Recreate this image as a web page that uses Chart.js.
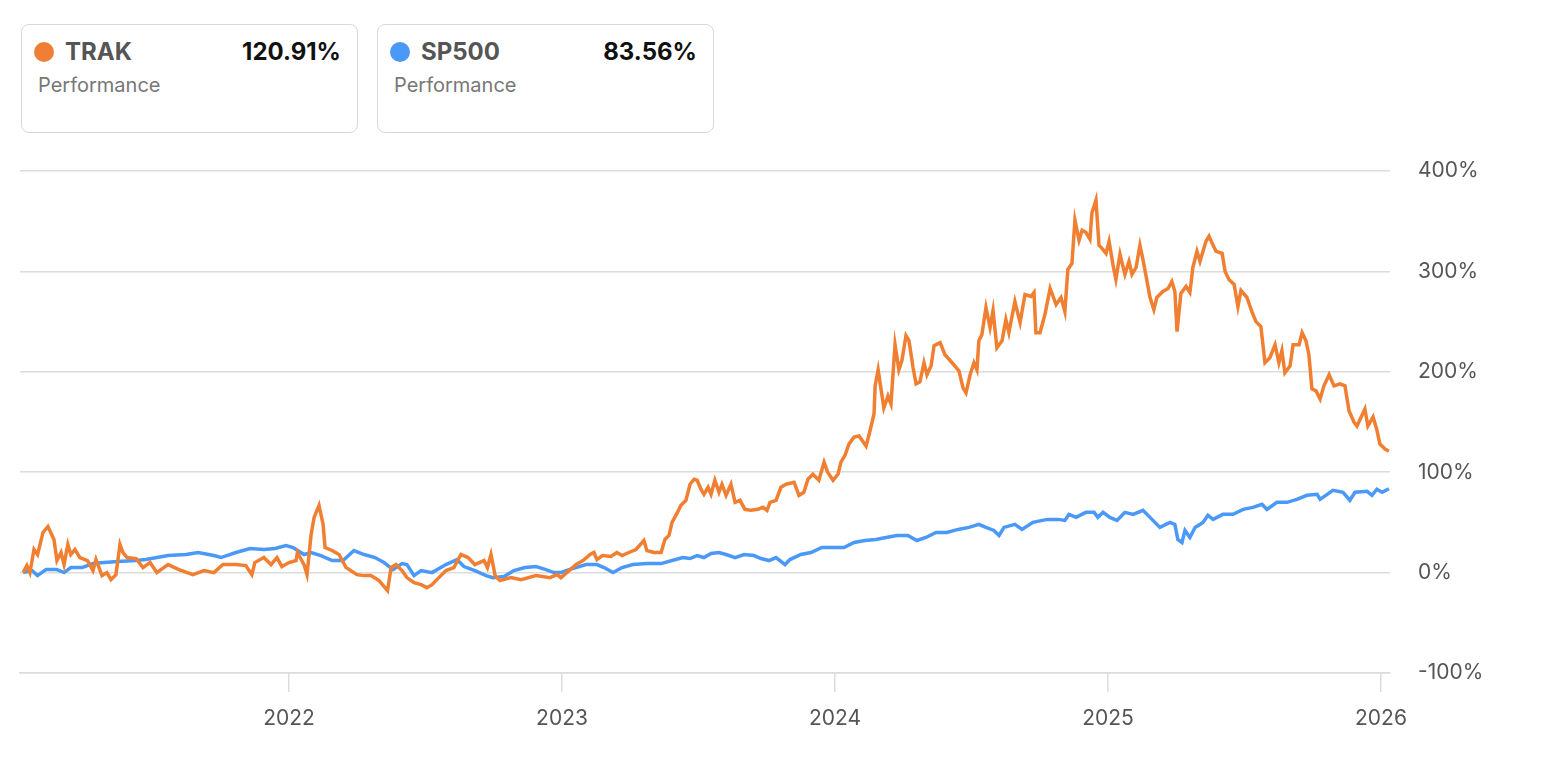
<!DOCTYPE html>
<html>
<head>
<meta charset="utf-8">
<script src="https://cdn.jsdelivr.net/npm/chart.js@4.4.1/dist/chart.umd.min.js"></script>
<style>
    html, body { margin: 0; padding: 0; background: #fff; }
    body { width: 1562px; height: 768px; position: relative; overflow: hidden; font-family: Inter, "Liberation Sans", sans-serif; }
    .card {
        position: absolute; top: 24px; height: 107px; width: 335px;
        border: 1.5px solid #d8d8d8; border-radius: 8px; box-sizing: content-box;
    }
    .card .dot { position: absolute; left: 12px; top: 17px; width: 20px; height: 20px; border-radius: 50%; }
    .card .name { position: absolute; left: 43px; top: 12px; font-size: 24px; font-weight: 700; color: #555; }
    .card .value { position: absolute; right: 16px; top: 12px; font-size: 24px; font-weight: 700; color: #111; }
    .card .label { position: absolute; left: 16px; top: 48px; font-size: 20px; color: #777; }
    #chartBox { position: absolute; left: 0; top: 150px; width: 1562px; height: 618px; }
</style>
</head>
<body>
<div class="card" style="left:21px">
    <div class="dot" style="background:#F07F35"></div>
    <div class="name">TRAK</div>
    <div class="value">120.91%</div>
    <div class="label">Performance</div>
</div>
<div class="card" style="left:377px">
    <div class="dot" style="background:#4A98F7"></div>
    <div class="name">SP500</div>
    <div class="value">83.56%</div>
    <div class="label">Performance</div>
</div>
<div id="chartBox"><canvas id="perfChart"></canvas></div>

<script>
// dates as decimal years, values as % performance since start
const trakDates = [
    2021.026, 2021.040, 2021.051, 2021.066, 2021.079, 2021.099, 2021.117, 2021.139, 2021.150, 2021.165,
    2021.176, 2021.190, 2021.201, 2021.216, 2021.234, 2021.262, 2021.282, 2021.293, 2021.315, 2021.333,
    2021.348, 2021.366, 2021.381, 2021.392, 2021.407, 2021.440, 2021.465, 2021.491, 2021.516, 2021.557,
    2021.597, 2021.648, 2021.689, 2021.725, 2021.758, 2021.806, 2021.842, 2021.864, 2021.875, 2021.908,
    2021.934, 2021.956, 2021.974, 2022.000, 2022.026, 2022.031, 2022.055, 2022.066, 2022.081, 2022.092,
    2022.110, 2022.125, 2022.132, 2022.158, 2022.183, 2022.209, 2022.249, 2022.275, 2022.300, 2022.330,
    2022.361, 2022.374, 2022.392, 2022.414, 2022.432, 2022.458, 2022.484, 2022.505, 2022.524, 2022.549,
    2022.575, 2022.604, 2022.630, 2022.656, 2022.681, 2022.714, 2022.727, 2022.740, 2022.755, 2022.773,
    2022.813, 2022.850, 2022.905, 2022.956, 2022.982, 2022.996, 2023.026, 2023.051, 2023.077, 2023.103,
    2023.117, 2023.128, 2023.148, 2023.179, 2023.201, 2023.220, 2023.245, 2023.271, 2023.300, 2023.311,
    2023.337, 2023.363, 2023.377, 2023.392, 2023.403, 2023.423, 2023.436, 2023.454, 2023.469, 2023.484,
    2023.495, 2023.509, 2023.520, 2023.535, 2023.546, 2023.560, 2023.575, 2023.586, 2023.601, 2023.619,
    2023.634, 2023.652, 2023.670, 2023.692, 2023.718, 2023.736, 2023.751, 2023.762, 2023.784, 2023.802,
    2023.821, 2023.850, 2023.868, 2023.886, 2023.901, 2023.919, 2023.941, 2023.960, 2023.973, 2023.993,
    2024.011, 2024.022, 2024.037, 2024.051, 2024.070, 2024.088, 2024.114, 2024.128, 2024.143, 2024.147,
    2024.158, 2024.168, 2024.179, 2024.194, 2024.205, 2024.220, 2024.234, 2024.245, 2024.260, 2024.271,
    2024.286, 2024.297, 2024.311, 2024.326, 2024.337, 2024.352, 2024.363, 2024.385, 2024.403, 2024.429,
    2024.454, 2024.469, 2024.480, 2024.495, 2024.509, 2024.520, 2024.527, 2024.538, 2024.553, 2024.568,
    2024.579, 2024.593, 2024.612, 2024.626, 2024.637, 2024.659, 2024.678, 2024.696, 2024.718, 2024.729,
    2024.736, 2024.751, 2024.769, 2024.788, 2024.810, 2024.828, 2024.842, 2024.853, 2024.868, 2024.879,
    2024.894, 2024.905, 2024.919, 2024.934, 2024.941, 2024.956, 2024.967, 2024.978, 2024.993, 2025.004,
    2025.018, 2025.029, 2025.044, 2025.062, 2025.077, 2025.088, 2025.103, 2025.117, 2025.128, 2025.143,
    2025.154, 2025.168, 2025.179, 2025.201, 2025.220, 2025.234, 2025.245, 2025.253, 2025.267, 2025.286,
    2025.300, 2025.311, 2025.326, 2025.337, 2025.359, 2025.370, 2025.385, 2025.396, 2025.418, 2025.429,
    2025.443, 2025.462, 2025.476, 2025.487, 2025.509, 2025.527, 2025.542, 2025.560, 2025.575, 2025.593,
    2025.612, 2025.626, 2025.637, 2025.648, 2025.667, 2025.678, 2025.700, 2025.711, 2025.725, 2025.736,
    2025.747, 2025.762, 2025.777, 2025.791, 2025.810, 2025.828, 2025.850, 2025.868, 2025.883, 2025.901,
    2025.912, 2025.941, 2025.952, 2025.971, 2025.985, 2025.996, 2026.015, 2026.029
];
const trakValues = [
    0, 7, 0, 23, 18, 40, 46, 33, 12, 20,
    8, 28, 18, 23, 15, 12, 2, 13, -3, 0,
    -7, -2, 28, 20, 15, 14, 5, 10, 0, 8,
    3, -2, 2, 0, 8, 8, 7, -2, 10, 15,
    8, 15, 6, 10, 12, 20, 8, -2, 38, 55,
    67, 48, 25, 22, 18, 5, -2, -3, -3, -8,
    -18, 5, 8, 2, -5, -10, -12, -15, -12, -5,
    2, 5, 18, 15, 8, 12, 5, 18, -3, -8,
    -5, -7, -3, -5, -2, -5, 2, 8, 12, 18,
    20, 13, 17, 16, 20, 17, 20, 23, 32, 22,
    20, 20, 33, 37, 50, 60, 67, 72, 88, 93,
    92, 83, 78, 85, 78, 92, 80, 88, 77, 88,
    70, 72, 63, 62, 63, 65, 62, 70, 72, 85,
    88, 90, 77, 80, 93, 98, 92, 110, 100, 92,
    98, 110, 117, 128, 135, 136, 126, 141, 158, 186,
    202, 184, 164, 176, 168, 227, 202, 211, 236, 231,
    204, 188, 190, 209, 197, 206, 226, 229, 217, 209,
    201, 184, 179, 197, 209, 202, 231, 237, 264, 244,
    261, 224, 231, 252, 239, 270, 249, 277, 275, 279,
    239, 239, 257, 283, 267, 274, 260, 302, 308, 351,
    331, 341, 339, 332, 358, 371, 326, 323, 318, 330,
    307, 292, 317, 297, 310, 297, 304, 326, 312, 290,
    274, 262, 274, 280, 283, 290, 280, 240, 278, 285,
    279, 304, 320, 310, 330, 335, 326, 320, 318, 300,
    292, 287, 265, 281, 274, 260, 250, 245, 209, 214,
    227, 209, 221, 199, 206, 227, 227, 239, 231, 217,
    183, 181, 173, 186, 197, 186, 188, 186, 161, 150,
    146, 163, 146, 155, 142, 128, 123, 120.91
];

const spDates = [
    2021.026, 2021.059, 2021.079, 2021.110, 2021.150, 2021.176, 2021.201, 2021.242, 2021.282, 2021.322,
    2021.374, 2021.440, 2021.476, 2021.516, 2021.557, 2021.623, 2021.667, 2021.725, 2021.751, 2021.806,
    2021.857, 2021.908, 2021.949, 2021.989, 2022.015, 2022.055, 2022.081, 2022.117, 2022.158, 2022.198,
    2022.238, 2022.275, 2022.315, 2022.348, 2022.381, 2022.414, 2022.432, 2022.458, 2022.484, 2022.524,
    2022.575, 2022.615, 2022.641, 2022.681, 2022.722, 2022.747, 2022.788, 2022.824, 2022.864, 2022.905,
    2022.941, 2022.971, 2022.996, 2023.026, 2023.051, 2023.088, 2023.128, 2023.154, 2023.187, 2023.220,
    2023.260, 2023.311, 2023.363, 2023.403, 2023.443, 2023.469, 2023.495, 2023.520, 2023.546, 2023.575,
    2023.601, 2023.634, 2023.667, 2023.703, 2023.729, 2023.758, 2023.784, 2023.817, 2023.835, 2023.875,
    2023.912, 2023.952, 2023.993, 2024.033, 2024.070, 2024.110, 2024.150, 2024.187, 2024.227, 2024.267,
    2024.300, 2024.333, 2024.370, 2024.410, 2024.451, 2024.491, 2024.527, 2024.553, 2024.582, 2024.601,
    2024.619, 2024.659, 2024.685, 2024.725, 2024.777, 2024.817, 2024.842, 2024.857, 2024.883, 2024.919,
    2024.949, 2024.963, 2024.982, 2025.007, 2025.033, 2025.062, 2025.092, 2025.128, 2025.154, 2025.190,
    2025.227, 2025.245, 2025.256, 2025.271, 2025.282, 2025.300, 2025.319, 2025.348, 2025.366, 2025.385,
    2025.421, 2025.458, 2025.495, 2025.531, 2025.564, 2025.582, 2025.619, 2025.656, 2025.692, 2025.729,
    2025.766, 2025.777, 2025.824, 2025.861, 2025.886, 2025.905, 2025.949, 2025.967, 2025.985, 2026.004,
    2026.029
];
const spValues = [
    0, 2, -3, 3, 3, 0, 5, 5, 9, 10,
    11, 12, 13, 15, 17, 18, 20, 17, 15, 20,
    24, 23, 24, 27, 25, 18, 20, 17, 12, 12,
    22, 18, 15, 10, 3, 9, 8, -3, 2, 0,
    8, 13, 6, 2, -3, -5, -4, 2, 5, 6,
    3, 0, 0, 3, 5, 8, 8, 5, 0, 5,
    8, 9, 9, 12, 15, 14, 17, 15, 19, 20,
    18, 15, 18, 17, 14, 12, 15, 8, 13, 18,
    20, 25, 25, 25, 30, 32, 33, 35, 37, 37,
    32, 35, 40, 40, 43, 45, 48, 45, 42, 37,
    45, 48, 43, 50, 53, 53, 52, 58, 55, 60,
    60, 55, 60, 55, 52, 60, 58, 62, 55, 45,
    50, 48, 33, 30, 42, 35, 45, 50, 57, 53,
    58, 58, 63, 65, 68, 63, 70, 70, 73, 77,
    78, 73, 82, 80, 72, 80, 81, 77, 83, 80,
    83.56
];

const yearTicks = [2022, 2023, 2024, 2025, 2026];
const pctTicks = [-100, 0, 100, 200, 300, 400];

const gridColor = '#dcdcdc';
const labelColor = '#555';

function toPoints(dates, values) {
    return dates.map((d, i) => ({ x: d, y: values[i] }));
}

const ctx = document.getElementById('perfChart').getContext('2d');
const perfChart = new Chart(ctx, {
    type: 'line',
    data: {
        datasets: [
            {
                label: 'SP500',
                data: toPoints(spDates, spValues),
                borderColor: '#4A98F7',
                borderWidth: 3.5,
                pointRadius: 0,
                tension: 0,
                order: 2
            },
            {
                label: 'TRAK',
                data: toPoints(trakDates, trakValues),
                borderColor: '#F07F32',
                borderWidth: 3.5,
                pointRadius: 0,
                tension: 0,
                order: 1
            }
        ]
    },
    options: {
        responsive: true,
        maintainAspectRatio: false,
        animation: false,
        layout: {
            padding: { left: 20, right: 0, top: 21, bottom: 35 }
        },
        plugins: {
            legend: { display: false },
            tooltip: { enabled: false }
        },
        scales: {
            x: {
                type: 'linear',
                min: 2021.0147,
                max: 2026.033,
                afterBuildTicks: (scale) => {
                    scale.ticks = yearTicks.map(v => ({ value: v }));
                },
                afterFit: (scale) => { scale.height = 60; },
                grid: {
                    drawOnChartArea: false,
                    drawTicks: true,
                    tickLength: 19,
                    color: gridColor,
                    lineWidth: 1.5
                },
                border: { color: gridColor, width: 1.5 },
                ticks: {
                    autoSkip: false,
                    maxRotation: 0,
                    padding: 14,
                    color: labelColor,
                    font: { family: 'Inter', size: 21 },
                    callback: (v) => String(v)
                }
            },
            y: {
                position: 'right',
                min: -100,
                max: 400,
                afterBuildTicks: (scale) => {
                    scale.ticks = pctTicks.map(v => ({ value: v }));
                },
                afterFit: (scale) => { scale.width = 172; },
                grid: {
                    drawTicks: true,
                    tickLength: 28,
                    tickColor: 'rgba(0,0,0,0)',
                    color: gridColor,
                    lineWidth: 1.5
                },
                border: { display: false },
                ticks: {
                    padding: 0,
                    color: labelColor,
                    font: { family: 'Inter', size: 21 },
                    callback: (v) => v + '%'
                }
            }
        }
    }
});
</script>
</body>
</html>
